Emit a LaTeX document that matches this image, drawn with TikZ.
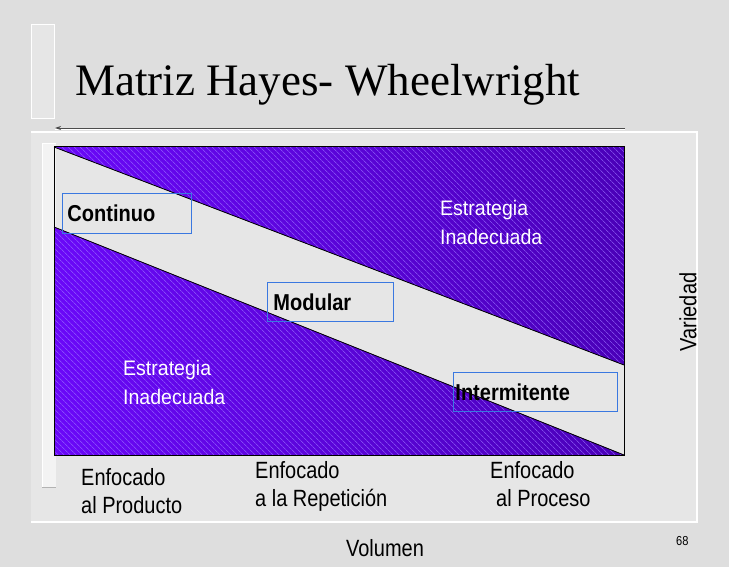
\documentclass[tikz,border=0pt]{standalone}
\usepackage{fontspec}
\setmainfont{Liberation Sans}
\newfontfamily\titlefont{Liberation Serif}
\newfontfamily\condfont{Liberation Sans}[FakeStretch=0.85]
\newfontfamily\semicond{Liberation Sans}[FakeStretch=0.93]
\newfontfamily\boldcond{Liberation Sans}[FakeStretch=0.87]
\usetikzlibrary{patterns.meta,arrows.meta}
\definecolor{bg}{HTML}{DEDEDE}
\definecolor{panel}{HTML}{E6E6E6}
\definecolor{pleft}{HTML}{6A08F8}
\definecolor{pright}{HTML}{4A00B8}
\definecolor{hatch}{HTML}{9A70FF}
\definecolor{boxblue}{HTML}{3A78E0}
\begin{document}
\begin{tikzpicture}[x=1pt,y=-1pt,
  lbl/.style={font=\condfont\fontsize{23.5}{26}\selectfont, inner sep=0pt, anchor=base west},
  wlbl/.style={font=\semicond\fontsize{21}{24}\selectfont, inner sep=0pt, anchor=base west, text=white},
  bluebox/.style={draw=boxblue, line width=0.9pt, anchor=north west, align=left,
     font=\boldcond\bfseries\fontsize{23}{26}\selectfont, inner ysep=0pt},
  purple/.style={left color=pleft, right color=pright},
  hatching/.style={pattern={Lines[angle=-45,distance=4pt,line width=0.55pt]}, pattern color=hatch}
]
\useasboundingbox (0,0) rectangle (729,567);
\fill[bg] (0,0) rectangle (729,567);
% title bar and panel
\fill[panel] (31,25) rectangle (54,119);
\draw[white, line width=1pt] (31,119) -- (31,25) -- (54,25) -- (54,119) -- cycle;
\fill[panel] (31,132) rectangle (697,522);
\draw[white, line width=1.5pt] (31,132) -- (697,132) -- (697,522) -- (31,522);
\fill[white!50!panel] (42,144) rectangle (56,487);
\draw[white, line width=1pt] (56,144) -- (42,144) -- (42,487);
\draw[gray!60, line width=0.6pt] (42,487) -- (56,487);
% title
\node[font=\titlefont\fontsize{45}{50}\selectfont, anchor=base west, inner sep=0pt] (title) at (75,96) {Matriz Hayes- Wheelwright};
% arrow line
\coordinate (arrR) at (625,128);
\coordinate (arrL) at (55,128);
\draw[white, line width=0.8pt] ([yshift=-1.5pt]arrR) -- ([yshift=-1.5pt]arrL);
\draw[-{Stealth[length=6pt,width=4pt]}, black!70, line width=0.9pt] (arrR) -- (arrL);
% chart corners
\coordinate (tl) at (54,147);
\coordinate (tr) at (624,147);
\coordinate (br) at (624,455);
\coordinate (bl) at (54,455);
\coordinate (ur) at (624,365);
\coordinate (ll) at (54,227);
% purple regions
\fill[purple] (tl) -- (tr) -- (ur) -- cycle;
\fill[hatching] (tl) -- (tr) -- (ur) -- cycle;
\fill[purple] (ll) -- (br) -- (bl) -- cycle;
\fill[hatching] (ll) -- (br) -- (bl) -- cycle;
\draw[black, line width=0.8pt] (tl) -- (ur);
\draw[black, line width=0.8pt] (ll) -- (br);
\draw[black, line width=1pt] (tl) rectangle (br);
% boxes
\node[bluebox, minimum width=129pt, minimum height=40pt, text width=119pt, inner xsep=5pt] (cont) at (62,193) {Continuo};
\node[bluebox, minimum width=126pt, minimum height=39pt, text width=114pt, inner xsep=6pt] (modu) at (267,282) {Modular};
\node[bluebox, minimum width=164pt, minimum height=39pt, text width=160pt, inner xsep=2pt] (inte) at (453,372) {Intermitente};
% white labels
\node[wlbl] (ea1) at (440,215) {Estrategia};
\node[wlbl] (ea2) at (440,244) {Inadecuada};
\node[wlbl] (eb1) at (123,375) {Estrategia};
\node[wlbl] (eb2) at (123,404) {Inadecuada};
% axis labels
\node[lbl] (p1) at (81,485) {Enfocado};
\node[lbl] (p2) at (81,513) {al Producto};
\node[lbl] (r1) at (255,478) {Enfocado};
\node[lbl] (r2) at (255,506) {a la Repetición};
\node[lbl] (c1) at (490,478) {Enfocado};
\node[lbl] (c2) at (496,506) {al Proceso};
\node[lbl, anchor=base] (vol) at (385,556) {Volumen};
\node[font=\condfont\fontsize{23.5}{26}\selectfont, rotate=90, inner sep=0pt] (var) at (688,312) {Variedad};
\node[font=\condfont\fontsize{13}{14}\selectfont, anchor=base west, inner sep=0pt] (pg) at (676,545) {68};
\end{tikzpicture}
\end{document}
